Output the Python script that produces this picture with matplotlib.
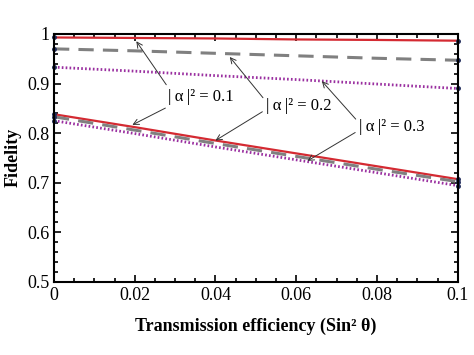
import numpy as np
import matplotlib.pyplot as plt
from matplotlib.ticker import MultipleLocator

plt.rcParams['font.family'] = ['Liberation Serif', 'DejaVu Serif']
plt.rcParams['mathtext.fontset'] = 'stix'

# Transmission efficiency (sin^2 theta)
x = [0.0, 0.02, 0.04, 0.06, 0.08, 0.1]

# upper group
red_top = [0.993, 0.992, 0.991, 0.989, 0.988, 0.9865]
gray_top = [0.970, 0.966, 0.961, 0.956, 0.951, 0.947]
purple_top = [0.933, 0.925, 0.916, 0.908, 0.899, 0.890]

# lower group
red_low = [0.838, 0.812, 0.785, 0.759, 0.733, 0.707]
gray_low = [0.833, 0.806, 0.779, 0.753, 0.727, 0.702]
purple_low = [0.825, 0.799, 0.772, 0.746, 0.720, 0.694]

labels = ['|\u2009α\u2009|² = 0.1', '|\u2009α\u2009|² = 0.2', '|\u2009α\u2009|² = 0.3']

fig = plt.figure(figsize=(4.74, 3.55), dpi=100)
ax = fig.add_axes([54 / 474, 1 - 281.7 / 355, 403.7 / 474, 247.7 / 355])

red = '#d42a32'
gray = '#808080'
purple = '#9a2fa0'
dot = '#1f2a5a'

for ys in (red_top, red_low):
    ax.plot(x, ys, color=red, lw=1.6)
for ys in (gray_top, gray_low):
    ax.plot(x, ys, color=gray, lw=2.2, dashes=(5, 3))
for ys in (purple_top, purple_low):
    ax.plot(x, ys, color=purple, lw=2.0, linestyle=(0, (0.6, 0.8)))
for ys in (red_top, gray_top, purple_top, red_low, gray_low, purple_low):
    ax.plot([x[0], x[-1]], [ys[0], ys[-1]], 'o', color=dot, ms=2.5, clip_on=False)

# annotations
tx = [(0.0282, 0.873), (0.0525, 0.855), (0.0755, 0.813)]
tips = [[(0.020, 0.990), (0.0188, 0.814)],
        [(0.0431, 0.958), (0.0394, 0.782)],
        [(0.0659, 0.909), (0.0622, 0.741)]]
starts = [[(0.0282, 0.893), (0.0282, 0.853)],
          [(0.0522, 0.867), (0.0522, 0.846)],
          [(0.0752, 0.824), (0.0752, 0.804)]]

for lab, (px, py), tp, st in zip(labels, tx, tips, starts):
    ax.text(px, py, lab, fontsize=12, va='center', ha='left')
    for t, s in zip(tp, st):
        ax.annotate('', xy=t, xytext=s,
                    arrowprops=dict(arrowstyle='->', color='#333333', lw=0.7))

ax.set_xlim(0, 0.1)
ax.set_ylim(0.5, 1.0)
ax.xaxis.set_minor_locator(MultipleLocator(0.005))
ax.yaxis.set_minor_locator(MultipleLocator(0.02))
ax.set_xticks([0, 0.02, 0.04, 0.06, 0.08, 0.1])
ax.set_xticklabels(['0', '0.02', '0.04', '0.06', '0.08', '0.1'])
ax.set_yticks([0.5, 0.6, 0.7, 0.8, 0.9, 1.0])
ax.set_yticklabels(['0.5', '0.6', '0.7', '0.8', '0.9', '1'])
ax.tick_params(which='both', direction='in', top=True, right=True, labelsize=13, width=1.2)
ax.tick_params(which='major', length=5)
ax.tick_params(which='minor', length=3)
for sp in ax.spines.values():
    sp.set_linewidth(1.5)

ax.set_xlabel('Transmission efficiency (Sin² θ)', fontsize=13, fontweight='bold', labelpad=10)
ax.set_ylabel('Fidelity', fontsize=13, fontweight='bold', labelpad=4)

fig.savefig('out.png', dpi=100)
